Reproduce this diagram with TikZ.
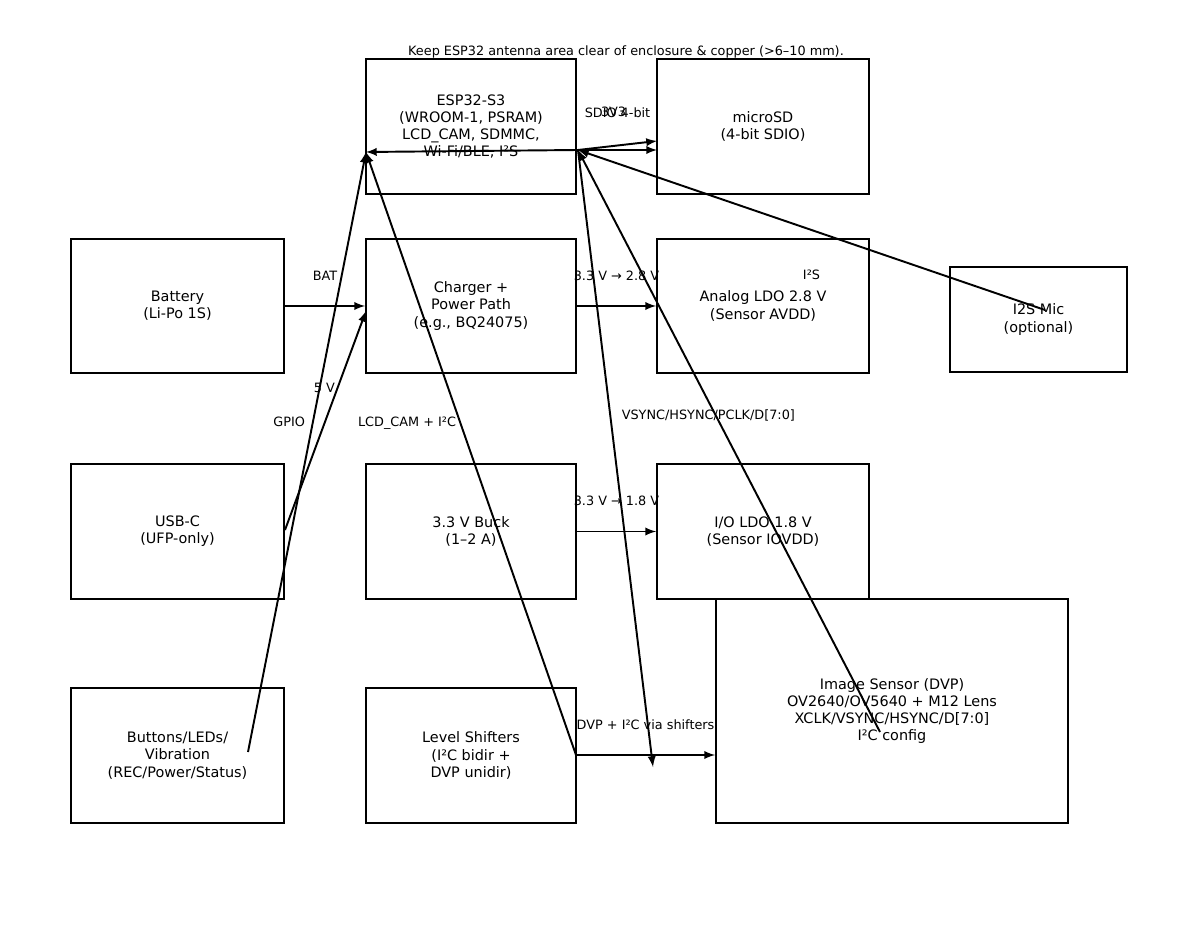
\documentclass[tikz,border=0pt]{standalone}
\usepackage{fontspec}
\setmainfont{DejaVu Sans}
\begin{document}
\begin{tikzpicture}[x=0.02cm,y=-0.02cm]
	\tikzset{blk/.style={draw=black, line width=1.1pt, inner sep=0pt, align=center, font=\fontsize{8.2}{9.8}\selectfont},
		lbl/.style={inner sep=0pt, font=\fontsize{7.3}{8}\selectfont},
		wire/.style={draw=black, line width=1.1pt, -latex}}
	\useasboundingbox (0,0) rectangle (1200,928);
	\node [lbl] at (626,52) {Keep ESP32 antenna area clear of enclosure \& copper (>6--10 mm).};
	% blocks
	\node [blk, minimum width=4.2cm, minimum height=2.7cm] (esp) at (471,126.5) {ESP32-S3\\(WROOM-1, PSRAM)\\LCD\_CAM, SDMMC,\\Wi-Fi/BLE, I²S};
	\node [blk, minimum width=4.24cm, minimum height=2.7cm] (sd) at (763,126.5) {microSD\\(4-bit SDIO)};
	\node [blk, minimum width=4.26cm, minimum height=2.68cm] (bat) at (177.5,306) {Battery\\(Li-Po 1S)};
	\node [blk, minimum width=4.2cm, minimum height=2.68cm] (chg) at (471,306) {Charger +\\Power Path\\(e.g., BQ24075)};
	\node [blk, minimum width=4.24cm, minimum height=2.68cm] (aldo) at (763,306) {Analog LDO 2.8 V\\(Sensor AVDD)};
	\node [blk, minimum width=3.54cm, minimum height=2.1cm] (mic) at (1038.5,319.5) {I2S Mic\\(optional)};
	\node [blk, minimum width=4.26cm, minimum height=2.7cm] (usb) at (177.5,531.5) {USB-C\\(UFP-only)};
	\node [blk, minimum width=4.2cm, minimum height=2.7cm] (buck) at (471,531.5) {3.3 V Buck\\(1--2 A)};
	\node [blk, minimum width=4.24cm, minimum height=2.7cm] (ioldo) at (763,531.5) {I/O LDO 1.8 V\\(Sensor IOVDD)};
	\node [blk, minimum width=7.04cm, minimum height=4.48cm] (cam) at (892,711) {Image Sensor (DVP)\\OV2640/OV5640 + M12 Lens\\XCLK/VSYNC/HSYNC/D[7:0]\\I²C config};
	\node [blk, minimum width=4.26cm, minimum height=2.7cm] (btn) at (177.5,755.5) {Buttons/LEDs/\\Vibration\\(REC/Power/Status)};
	\node [blk, minimum width=4.2cm, minimum height=2.7cm] (lvl) at (471,755.5) {Level Shifters\\(I²C bidir +\\DVP unidir)};
	% free ends
	\coordinate (espR) at (578,150);
	\coordinate (espL) at (366,152);
	\coordinate (lvlR) at (576,755);
	\coordinate (micC) at (1045,310);
	\coordinate (camC) at (880,732);
	\coordinate (vEnd) at (653,767);
	\coordinate (btnC) at (248,752);
	\coordinate (usbR) at (285,530);
	% connectors
	\draw [wire] (bat.east) -- (chg.west) node [lbl, pos=0.5, above=14pt] {BAT};
	\draw [wire] (usbR) -- (366,311) node [lbl, pos=0.65, left=1pt] {5 V};
	\draw [wire] (btnC) -- (espL) node [lbl, pos=0.55, left=4pt] {GPIO};
	\draw [wire] (chg.east) -- (aldo.west) node [lbl, pos=0.5, above=14pt] {3.3 V → 2.8 V};
	\draw [wire] (buck.east) -- (ioldo.west) node [lbl, pos=0.5, above=14pt] {3.3 V → 1.8 V};
	\draw [wire] (lvlR) -- (cam.west |- lvlR) node [lbl, pos=0.5, above=14pt] {DVP + I²C via shifters};
	\draw [wire] (espR) -- (657,150) node [lbl, pos=0.5, above=18pt] {SDIO 4-bit};
	\draw [wire] (espR) -- (657,141) node [lbl, pos=0.45, above=16pt] {3V3};
	\draw [wire] (espR) -- (espL);
	\draw [wire] (micC) -- (espR) node [lbl, pos=0.5, below=22pt] {I²S};
	\draw [wire] (lvlR) -- (espL) node [lbl, pos=0.55, left=2pt] {LCD\_CAM + I²C};
	\draw [wire] (espR) -- (vEnd) node [lbl, pos=0.43, right=6pt] {VSYNC/HSYNC/PCLK/D[7:0]};
	\draw [wire] (camC) -- (espR);
\end{tikzpicture}
\end{document}
